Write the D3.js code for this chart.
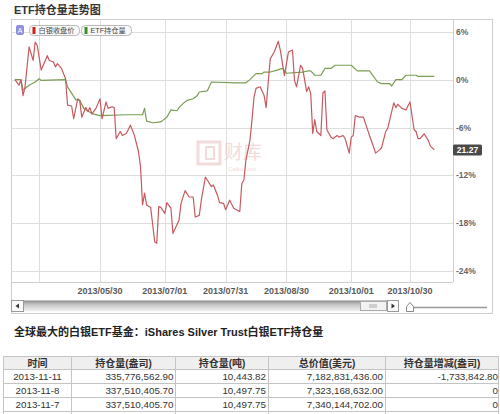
<!DOCTYPE html>
<html><head><meta charset="utf-8">
<script src="https://cdn.jsdelivr.net/npm/d3@7"></script>
<style>body{margin:0;background:#fff}svg{display:block}</style>
</head><body>
<svg id="c" width="500" height="414"></svg>
<script>
// ---------- data ----------
const chartTitle = "ETF持仓量走势图";
const legendLabels = ["白银收盘价", "ETF持仓量"];
const lastPriceLabel = "21.27";

const redDates = ["2013-04-18","2013-04-20","2013-04-21","2013-04-22","2013-04-23","2013-04-25","2013-04-27","2013-04-28","2013-04-29","2013-05-01","2013-05-04","2013-05-05","2013-05-07","2013-05-08","2013-05-09","2013-05-11","2013-05-13","2013-05-14","2013-05-16","2013-05-17","2013-05-19","2013-05-20","2013-05-21","2013-05-23","2013-05-24","2013-05-25","2013-05-26","2013-05-28","2013-05-30","2013-05-31","2013-06-02","2013-06-03","2013-06-05","2013-06-06","2013-06-07","2013-06-09","2013-06-10","2013-06-12","2013-06-14","2013-06-16","2013-06-18","2013-06-19","2013-06-20","2013-06-21","2013-06-22","2013-06-24","2013-06-26","2013-06-27","2013-06-28","2013-06-29","2013-07-01","2013-07-02","2013-07-04","2013-07-05","2013-07-08","2013-07-09","2013-07-11","2013-07-13","2013-07-15","2013-07-16","2013-07-18","2013-07-19","2013-07-21","2013-07-22","2013-07-24","2013-07-25","2013-07-27","2013-07-28","2013-07-30","2013-07-31","2013-08-02","2013-08-04","2013-08-06","2013-08-07","2013-08-08","2013-08-09","2013-08-10","2013-08-12","2013-08-13","2013-08-14","2013-08-15","2013-08-17","2013-08-19","2013-08-20","2013-08-22","2013-08-24","2013-08-26","2013-08-27","2013-08-29","2013-08-31","2013-09-02","2013-09-03","2013-09-04","2013-09-06","2013-09-07","2013-09-09","2013-09-10","2013-09-11","2013-09-12","2013-09-13","2013-09-14","2013-09-16","2013-09-17","2013-09-18","2013-09-19","2013-09-21","2013-09-22","2013-09-24","2013-09-25","2013-09-27","2013-09-28","2013-09-30","2013-10-01","2013-10-02","2013-10-03","2013-10-05","2013-10-07","2013-10-10","2013-10-12","2013-10-13","2013-10-15","2013-10-16","2013-10-18","2013-10-19","2013-10-22","2013-10-23","2013-10-24","2013-10-26","2013-10-28","2013-10-30","2013-11-01","2013-11-02","2013-11-03","2013-11-04","2013-11-06","2013-11-08","2013-11-09","2013-11-11"];
const redValues = [0,-0.7,0,-2.0,-0.9,4.1,2.4,4.7,4.3,1.2,3.0,2.4,2.2,1.6,2.0,1.4,0.1,-3.2,-3.3,-4.9,-2.4,-2.6,-4.7,-3.5,-4.0,-3.5,-4.3,-3.6,-2.4,-4.9,-2.8,-3.6,-3.4,-3.5,-7.4,-6.5,-7.0,-6.75,-5.7,-7.0,-9.0,-10.9,-15.7,-14.2,-15.7,-16.0,-20.3,-20.5,-15.9,-16.0,-16.75,-15.4,-16.1,-19.25,-17.6,-15.5,-13.9,-14.7,-14.7,-17.2,-17.0,-15.1,-12.2,-12.6,-13.4,-13.2,-14.5,-15.4,-15.5,-16.3,-15.1,-16.1,-16.4,-16.5,-13.0,-12.6,-10.1,-7.6,-5.1,-2.2,-1.1,-0.9,-2.0,-3.5,2.6,3.45,4.8,3.7,0.5,3.45,3.7,-0.1,-0.9,1.8,1.4,-1.5,-0.9,-1.75,-6.75,-5.0,-6.5,-7.0,-1.7,-1.4,-6.3,-7.2,-7.4,-7.0,-7.2,-7.0,-7.4,-9.2,-7.2,-7.0,-4.5,-4.7,-4.7,-7.0,-8.4,-9.2,-8.8,-8.5,-6.5,-6.1,-2.9,-3.5,-3.1,-3.6,-3.8,-2.8,-6.25,-6.5,-7.4,-7.4,-6.8,-7.6,-8.3,-8.8];

const greenDates = ["2013-04-18","2013-04-20","2013-04-21","2013-04-22","2013-04-23","2013-04-25","2013-04-28","2013-04-30","2013-05-01","2013-05-13","2013-05-14","2013-05-18","2013-05-20","2013-05-22","2013-05-26","2013-05-30","2013-06-12","2013-06-20","2013-06-21","2013-06-22","2013-06-25","2013-06-29","2013-06-30","2013-07-02","2013-07-04","2013-07-07","2013-07-08","2013-07-10","2013-07-12","2013-07-15","2013-07-17","2013-07-18","2013-07-22","2013-07-24","2013-08-05","2013-08-10","2013-08-12","2013-08-15","2013-08-18","2013-08-19","2013-08-22","2013-08-25","2013-08-28","2013-08-30","2013-09-07","2013-09-10","2013-09-11","2013-09-13","2013-09-16","2013-09-18","2013-09-21","2013-09-23","2013-10-01","2013-10-04","2013-10-10","2013-10-14","2013-10-16","2013-10-20","2013-10-21","2013-10-23","2013-10-26","2013-10-28","2013-11-02","2013-11-03","2013-11-11"];
const greenValues = [0,0,0,-1.3,-1.1,-0.7,-0.3,0.1,-0.1,0,-0.9,-2.5,-2.6,-3.6,-4.25,-4.5,-4.4,-4.4,-3.6,-5.2,-5.4,-5.3,-5.1,-4.7,-3.8,-3.9,-3.5,-3.0,-2.6,-2.4,-2.0,-1.55,-1.4,-0.3,-0.4,-0.4,0,0.75,0.75,0.95,0.95,1.15,1.4,0.8,0.95,1.1,1.1,0.55,0.55,1.4,1.4,1.8,1.8,1.1,1.1,-0.3,-0.5,-0.5,-0.8,0,0,0.55,0.55,0.4,0.4];

const yTicks = [6, 0, -6, -12, -18, -24];
const gridDates = ["2013-04-30","2013-05-30","2013-07-01","2013-07-31","2013-08-30","2013-10-01","2013-10-30"];
const xTickDates = ["2013-05-30","2013-07-01","2013-07-31","2013-08-30","2013-10-01","2013-10-30"];
const xTickLabels = ["2013/05/30","2013/07/01","2013/07/31","2013/08/30","2013/10/01","2013/10/30"];

const tableTitle = "全球最大的白银ETF基金：iShares Silver Trust白银ETF持仓量";
const tableHeaders = ["时间","持仓量(盎司)","持仓量(吨)","总价值(美元)","持仓量增减(盎司)"];
const tableDates = ["2013-11-11","2013-11-8","2013-11-7"];
const tableOunces = ["335,776,562.90","337,510,405.70","337,510,405.70"];
const tableTonnes = ["10,443.82","10,497.75","10,497.75"];
const tableValueUSD = ["7,182,831,436.00","7,323,168,632.00","7,340,144,702.00"];
const tableChange = ["-1,733,842.80","0","0"];

// ---------- drawing ----------
const svg = d3.select("#c");
const parse = d3.timeParse("%Y-%m-%d");
const LAT = "'Liberation Sans', Arial, 'Noto Sans CJK SC', sans-serif";

const P = {l: 11, r: 453, t: 19, b: 282};
const x = d3.scaleTime().domain([parse("2013-05-30"), parse("2013-10-30")]).range([100, 410]);
const y = d3.scaleLinear().domain([-24, 6]).range([271.3, 31.7]);

// title
svg.append("text").attr("x", 14).attr("y", 14).text(chartTitle)
  .attr("font-family", LAT).attr("font-weight", "bold").attr("font-size", 11).attr("fill", "#333");

// panel
svg.append("rect").attr("x", P.l + 0.5).attr("y", P.t + 0.5).attr("width", 492 - P.l).attr("height", 313 - P.t)
  .attr("fill", "#fff").attr("stroke", "#cfcfcf");

// grid
svg.append("g").selectAll("line").data(yTicks).join("line")
  .attr("x1", P.l).attr("x2", P.r).attr("y1", d => Math.round(y(d)) + 0.5).attr("y2", d => Math.round(y(d)) + 0.5)
  .attr("stroke", "#dedede");
svg.append("g").selectAll("line").data(gridDates).join("line")
  .attr("x1", d => Math.round(x(parse(d))) + 0.5).attr("x2", d => Math.round(x(parse(d))) + 0.5)
  .attr("y1", P.t).attr("y2", P.b).attr("stroke", "#dedede");
// plot border
svg.append("line").attr("x1", P.r + 0.5).attr("x2", P.r + 0.5).attr("y1", P.t).attr("y2", P.b).attr("stroke", "#cfcfcf");
svg.append("line").attr("x1", P.l).attr("x2", P.r).attr("y1", P.b + 0.5).attr("y2", P.b + 0.5).attr("stroke", "#cfcfcf");

// right axis labels
svg.append("g").selectAll("text").data(yTicks).join("text")
  .attr("x", 456).attr("y", d => y(d) + 3)
  .text(d => d + "%")
  .attr("font-family", LAT).attr("font-size", 8.5).attr("font-weight", "bold").attr("fill", "#666");

// x labels
svg.append("g").selectAll("text").data(xTickDates).join("text")
  .attr("x", d => x(parse(d))).attr("y", 294).attr("text-anchor", "middle")
  .text((d, i) => xTickLabels[i])
  .attr("font-family", LAT).attr("font-size", 9).attr("font-weight", "bold").attr("fill", "#5a5a5a");

// watermark
const wm = svg.append("g").attr("opacity", 0.5);
wm.append("rect").attr("x", 198).attr("y", 142).attr("width", 22).attr("height", 22).attr("fill", "none").attr("stroke", "#e8b8b8").attr("stroke-width", 3);
wm.append("rect").attr("x", 206).attr("y", 147).attr("width", 8).attr("height", 12).attr("fill", "none").attr("stroke", "#e8b8b8").attr("stroke-width", 2);
wm.append("text").attr("x", 224).attr("y", 159).text("财库").attr("font-family", "'Noto Sans CJK SC'").attr("font-size", 19).attr("fill", "#e8b8b8");
wm.append("text").attr("x", 228).attr("y", 171).text("Caiku.com").attr("font-family", LAT).attr("font-size", 6).attr("fill", "#e8b8b8");

// clip
svg.append("clipPath").attr("id", "pc").append("rect").attr("x", P.l).attr("y", P.t).attr("width", P.r - P.l).attr("height", P.b - P.t);

const line = d3.line().x(d => x(d[0])).y(d => y(d[1]));
const green = greenDates.map((d, i) => [parse(d), greenValues[i]]);
const red = redDates.map((d, i) => [parse(d), redValues[i]]);
const lg = svg.append("g").attr("clip-path", "url(#pc)");
lg.append("path").datum(green).attr("d", line).attr("fill", "none").attr("stroke", "#7a9d52").attr("stroke-width", 1.2).attr("stroke-linejoin", "round");
lg.append("path").datum(red).attr("d", line).attr("fill", "none").attr("stroke", "#c65a5f").attr("stroke-width", 1.2).attr("stroke-linejoin", "round");

// last value label
const lastY = y(redValues[redValues.length - 1]);
svg.append("rect").attr("x", 453).attr("y", lastY - 5.5).attr("width", 29).attr("height", 11).attr("rx", 1.5).attr("fill", "#4a4a4a");
svg.append("text").attr("x", 467.5).attr("y", lastY + 3.2).attr("text-anchor", "middle").text(lastPriceLabel)
  .attr("font-family", LAT).attr("font-size", 8.5).attr("font-weight", "bold").attr("fill", "#fff");

// legend
const lgd = svg.append("g");
lgd.append("rect").attr("x", 16).attr("y", 25).attr("width", 8).attr("height", 10).attr("rx", 2).attr("fill", "#8d90e0");
lgd.append("text").attr("x", 20).attr("y", 32.5).attr("text-anchor", "middle").text("A").attr("font-family", LAT).attr("font-size", 7).attr("fill", "#fff");
const legColors = ["#cc2020", "#3f8f20"];
const legX = [29.5, 81.5];
legendLabels.forEach((lab, i) => {
  lgd.append("rect").attr("x", legX[i]).attr("y", 25.5).attr("width", 50).attr("height", 10).attr("rx", 4)
    .attr("fill", "#f8f8f8").attr("stroke", "#aaa").attr("stroke-width", 0.8);
  lgd.append("rect").attr("x", legX[i] + 3).attr("y", 27).attr("width", 3).attr("height", 7).attr("fill", legColors[i]);
  lgd.append("text").attr("x", legX[i] + 9).attr("y", 33.3).text(lab)
    .attr("font-family", LAT).attr("font-size", 7.2).attr("fill", "#444");
});

// scrollbar
const defs = svg.append("defs");
const gr = defs.append("linearGradient").attr("id", "sg").attr("x1", 0).attr("y1", 0).attr("x2", 0).attr("y2", 1);
gr.append("stop").attr("offset", 0).attr("stop-color", "#8a8a8a");
gr.append("stop").attr("offset", 0.35).attr("stop-color", "#c4c4c4");
gr.append("stop").attr("offset", 1).attr("stop-color", "#f4f4f4");
svg.append("rect").attr("x", 24).attr("y", 300.5).attr("width", 363).attr("height", 11).attr("fill", "url(#sg)");
svg.append("rect").attr("x", 11.5).attr("y", 300.5).attr("width", 12).attr("height", 11).attr("fill", "#fafafa").attr("stroke", "#999");
svg.append("path").attr("d", "M15.5,306 L19,303.5 L19,308.5 Z").attr("fill", "#333");
svg.append("rect").attr("x", 360.5).attr("y", 301.5).attr("width", 26).attr("height", 9).attr("fill", "#f2f2f2").attr("stroke", "#aaa");
svg.append("path").attr("d", "M370,304v4M372,304v4M374,304v4M376,304v4").attr("stroke", "#999").attr("stroke-width", 0.8);
svg.append("rect").attr("x", 387.5).attr("y", 300.5).attr("width", 11).attr("height", 11).attr("fill", "#fafafa").attr("stroke", "#999");
svg.append("path").attr("d", "M395,306 L391.5,303.5 L391.5,308.5 Z").attr("fill", "#333");
svg.append("line").attr("x1", 409).attr("x2", 487).attr("y1", 307.5).attr("y2", 307.5).attr("stroke", "#999").attr("stroke-width", 1.5);
svg.append("path").attr("d", "M406.5,311.5 L406.5,306.5 L410,302.5 L413.5,306.5 L413.5,311.5 Z").attr("fill", "#fff").attr("stroke", "#888");

// table title
svg.append("text").attr("x", 14).attr("y", 336).text(tableTitle)
  .attr("font-family", LAT).attr("font-weight", "bold").attr("font-size", 11).attr("fill", "#222");

// table
const colX = [3.5, 71.5, 175.5, 268.5, 385.5, 498.5];
const rowY = [356.5, 369.5, 383.5, 397.5, 411.5];
const tg = svg.append("g");
tg.append("rect").attr("x", colX[0]).attr("y", rowY[0]).attr("width", colX[5] - colX[0]).attr("height", rowY[1] - rowY[0]).attr("fill", "#efefef");
rowY.forEach(yy => tg.append("line").attr("x1", colX[0]).attr("x2", colX[5]).attr("y1", yy).attr("y2", yy).attr("stroke", "#c4c4c4"));
colX.forEach(xx => tg.append("line").attr("x1", xx).attr("x2", xx).attr("y1", rowY[0]).attr("y2", 414).attr("stroke", "#c4c4c4"));
tableHeaders.forEach((h, i) => {
  tg.append("text").attr("x", (colX[i] + colX[i + 1]) / 2).attr("y", rowY[0] + 10).attr("text-anchor", "middle").text(h)
    .attr("font-family", LAT).attr("font-weight", "bold").attr("font-size", 10).attr("fill", "#333");
});
const cols = [tableDates, tableOunces, tableTonnes, tableValueUSD, tableChange];
const rightEdge = [null, 173.5, 266, 383, 498];
cols.forEach((col, c) => {
  col.forEach((v, r) => {
    const t = tg.append("text").attr("y", rowY[r + 1] + 10.5).text(v)
      .attr("font-family", LAT).attr("font-size", 9.8).attr("fill", "#333");
    if (c === 0) t.attr("x", (colX[0] + colX[1]) / 2).attr("text-anchor", "middle");
    else t.attr("x", rightEdge[c]).attr("text-anchor", "end");
  });
});
</script>
</body></html>
